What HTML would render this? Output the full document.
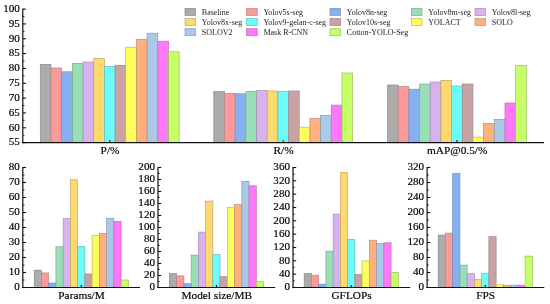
<!DOCTYPE html>
<html><head><meta charset="utf-8"><title>chart</title>
<style>html,body{margin:0;padding:0;background:#fff;}body{width:550px;height:304px;overflow:hidden;}svg{display:block}</style>
</head><body>
<svg width="550" height="304" viewBox="0 0 550 304" font-family="'Liberation Serif', serif" fill="#000" stroke="#000" stroke-width="0.18">
<line x1="22.80" y1="8.50" x2="22.80" y2="143.20" stroke="#111" stroke-width="1.2"/>
<line x1="22.80" y1="9.10" x2="26.00" y2="9.10" stroke="#111" stroke-width="1.1"/>
<line x1="22.80" y1="16.52" x2="24.50" y2="16.52" stroke="#111" stroke-width="0.9"/>
<text x="19.80" y="11.90" font-size="11.1" text-anchor="end">100</text>
<line x1="22.80" y1="23.93" x2="26.00" y2="23.93" stroke="#111" stroke-width="1.1"/>
<line x1="22.80" y1="31.35" x2="24.50" y2="31.35" stroke="#111" stroke-width="0.9"/>
<text x="19.80" y="26.73" font-size="11.1" text-anchor="end">95</text>
<line x1="22.80" y1="38.77" x2="26.00" y2="38.77" stroke="#111" stroke-width="1.1"/>
<line x1="22.80" y1="46.18" x2="24.50" y2="46.18" stroke="#111" stroke-width="0.9"/>
<text x="19.80" y="41.57" font-size="11.1" text-anchor="end">90</text>
<line x1="22.80" y1="53.60" x2="26.00" y2="53.60" stroke="#111" stroke-width="1.1"/>
<line x1="22.80" y1="61.02" x2="24.50" y2="61.02" stroke="#111" stroke-width="0.9"/>
<text x="19.80" y="56.40" font-size="11.1" text-anchor="end">85</text>
<line x1="22.80" y1="68.43" x2="26.00" y2="68.43" stroke="#111" stroke-width="1.1"/>
<line x1="22.80" y1="75.85" x2="24.50" y2="75.85" stroke="#111" stroke-width="0.9"/>
<text x="19.80" y="71.23" font-size="11.1" text-anchor="end">80</text>
<line x1="22.80" y1="83.27" x2="26.00" y2="83.27" stroke="#111" stroke-width="1.1"/>
<line x1="22.80" y1="90.68" x2="24.50" y2="90.68" stroke="#111" stroke-width="0.9"/>
<text x="19.80" y="86.07" font-size="11.1" text-anchor="end">75</text>
<line x1="22.80" y1="98.10" x2="26.00" y2="98.10" stroke="#111" stroke-width="1.1"/>
<line x1="22.80" y1="105.52" x2="24.50" y2="105.52" stroke="#111" stroke-width="0.9"/>
<text x="19.80" y="100.90" font-size="11.1" text-anchor="end">70</text>
<line x1="22.80" y1="112.93" x2="26.00" y2="112.93" stroke="#111" stroke-width="1.1"/>
<line x1="22.80" y1="120.35" x2="24.50" y2="120.35" stroke="#111" stroke-width="0.9"/>
<text x="19.80" y="115.73" font-size="11.1" text-anchor="end">65</text>
<line x1="22.80" y1="127.77" x2="26.00" y2="127.77" stroke="#111" stroke-width="1.1"/>
<line x1="22.80" y1="135.18" x2="24.50" y2="135.18" stroke="#111" stroke-width="0.9"/>
<text x="19.80" y="130.57" font-size="11.1" text-anchor="end">60</text>
<line x1="22.80" y1="142.60" x2="26.00" y2="142.60" stroke="#111" stroke-width="1.1"/>
<text x="19.80" y="145.40" font-size="11.1" text-anchor="end">55</text>
<rect x="40.30" y="64.40" width="10.68" height="78.20" fill="#ababab" stroke="#8d8d8d" stroke-width="0.7"/>
<rect x="50.98" y="68.00" width="10.68" height="74.60" fill="#fb9a99" stroke="#b98383" stroke-width="0.7"/>
<rect x="61.66" y="71.80" width="10.68" height="70.80" fill="#86b0f2" stroke="#7890b4" stroke-width="0.7"/>
<rect x="72.34" y="63.40" width="10.68" height="79.20" fill="#98dfb8" stroke="#82a994" stroke-width="0.7"/>
<rect x="83.02" y="62.00" width="10.68" height="80.60" fill="#d8b2ee" stroke="#a691b2" stroke-width="0.7"/>
<rect x="93.70" y="58.40" width="10.68" height="84.20" fill="#ffd86e" stroke="#bba66b" stroke-width="0.7"/>
<rect x="104.38" y="66.40" width="10.68" height="76.20" fill="#6cfcfc" stroke="#6ab9b9" stroke-width="0.7"/>
<rect x="115.06" y="65.30" width="10.68" height="77.30" fill="#c9a3a3" stroke="#9d8888" stroke-width="0.7"/>
<rect x="125.74" y="47.20" width="10.68" height="95.40" fill="#ffff5a" stroke="#bbbb60" stroke-width="0.7"/>
<rect x="136.42" y="39.40" width="10.68" height="103.20" fill="#ffb07c" stroke="#bb9073" stroke-width="0.7"/>
<rect x="147.10" y="33.20" width="10.68" height="109.40" fill="#abc8e6" stroke="#8d9dad" stroke-width="0.7"/>
<rect x="157.78" y="41.20" width="10.68" height="101.40" fill="#ff78fa" stroke="#bb71b8" stroke-width="0.7"/>
<rect x="168.46" y="51.80" width="10.68" height="90.80" fill="#c6ff66" stroke="#9cbb67" stroke-width="0.7"/>
<rect x="213.80" y="91.40" width="10.68" height="51.20" fill="#ababab" stroke="#8d8d8d" stroke-width="0.7"/>
<rect x="224.48" y="93.60" width="10.68" height="49.00" fill="#fb9a99" stroke="#b98383" stroke-width="0.7"/>
<rect x="235.16" y="93.80" width="10.68" height="48.80" fill="#86b0f2" stroke="#7890b4" stroke-width="0.7"/>
<rect x="245.84" y="91.40" width="10.68" height="51.20" fill="#98dfb8" stroke="#82a994" stroke-width="0.7"/>
<rect x="256.52" y="90.40" width="10.68" height="52.20" fill="#d8b2ee" stroke="#a691b2" stroke-width="0.7"/>
<rect x="267.20" y="91.00" width="10.68" height="51.60" fill="#ffd86e" stroke="#bba66b" stroke-width="0.7"/>
<rect x="277.88" y="91.60" width="10.68" height="51.00" fill="#6cfcfc" stroke="#6ab9b9" stroke-width="0.7"/>
<rect x="288.56" y="91.00" width="10.68" height="51.60" fill="#c9a3a3" stroke="#9d8888" stroke-width="0.7"/>
<rect x="299.24" y="127.20" width="10.68" height="15.40" fill="#ffff5a" stroke="#bbbb60" stroke-width="0.7"/>
<rect x="309.92" y="118.60" width="10.68" height="24.00" fill="#ffb07c" stroke="#bb9073" stroke-width="0.7"/>
<rect x="320.60" y="115.40" width="10.68" height="27.20" fill="#abc8e6" stroke="#8d9dad" stroke-width="0.7"/>
<rect x="331.28" y="105.10" width="10.68" height="37.50" fill="#ff78fa" stroke="#bb71b8" stroke-width="0.7"/>
<rect x="341.96" y="73.00" width="10.68" height="69.60" fill="#c6ff66" stroke="#9cbb67" stroke-width="0.7"/>
<rect x="387.50" y="85.00" width="10.68" height="57.60" fill="#ababab" stroke="#8d8d8d" stroke-width="0.7"/>
<rect x="398.18" y="86.60" width="10.68" height="56.00" fill="#fb9a99" stroke="#b98383" stroke-width="0.7"/>
<rect x="408.86" y="89.20" width="10.68" height="53.40" fill="#86b0f2" stroke="#7890b4" stroke-width="0.7"/>
<rect x="419.54" y="84.00" width="10.68" height="58.60" fill="#98dfb8" stroke="#82a994" stroke-width="0.7"/>
<rect x="430.22" y="82.00" width="10.68" height="60.60" fill="#d8b2ee" stroke="#a691b2" stroke-width="0.7"/>
<rect x="440.90" y="80.40" width="10.68" height="62.20" fill="#ffd86e" stroke="#bba66b" stroke-width="0.7"/>
<rect x="451.58" y="86.00" width="10.68" height="56.60" fill="#6cfcfc" stroke="#6ab9b9" stroke-width="0.7"/>
<rect x="462.26" y="84.00" width="10.68" height="58.60" fill="#c9a3a3" stroke="#9d8888" stroke-width="0.7"/>
<rect x="472.94" y="137.20" width="10.68" height="5.40" fill="#ffff5a" stroke="#bbbb60" stroke-width="0.7"/>
<rect x="483.62" y="123.40" width="10.68" height="19.20" fill="#ffb07c" stroke="#bb9073" stroke-width="0.7"/>
<rect x="494.30" y="119.40" width="10.68" height="23.20" fill="#abc8e6" stroke="#8d9dad" stroke-width="0.7"/>
<rect x="504.98" y="103.00" width="10.68" height="39.60" fill="#ff78fa" stroke="#bb71b8" stroke-width="0.7"/>
<rect x="515.66" y="65.60" width="10.68" height="77.00" fill="#c6ff66" stroke="#9cbb67" stroke-width="0.7"/>
<line x1="22.20" y1="142.60" x2="544.00" y2="142.60" stroke="#111" stroke-width="1.2"/>
<line x1="109.72" y1="142.60" x2="109.72" y2="140.20" stroke="#111" stroke-width="1.1"/>
<text x="110.02" y="154.40" font-size="11.3" text-anchor="middle">P/%</text>
<line x1="283.22" y1="142.60" x2="283.22" y2="140.20" stroke="#111" stroke-width="1.1"/>
<text x="283.52" y="154.40" font-size="11.3" text-anchor="middle">R/%</text>
<line x1="456.92" y1="142.60" x2="456.92" y2="140.20" stroke="#111" stroke-width="1.1"/>
<text x="457.22" y="154.40" font-size="11.3" text-anchor="middle">mAP@0.5/%</text>
<rect x="185.00" y="8.40" width="10.6" height="7" fill="#ababab" stroke="#8d8d8d" stroke-width="0.7"/>
<text x="201.80" y="14.70" font-size="8" text-anchor="start" stroke="none" fill="#222">Baseline</text>
<rect x="185.00" y="18.60" width="10.6" height="7" fill="#ffd86e" stroke="#bba66b" stroke-width="0.7"/>
<text x="201.80" y="24.90" font-size="8" text-anchor="start" stroke="none" fill="#222">Yolov8x-seg</text>
<rect x="185.00" y="28.70" width="10.6" height="7" fill="#abc8e6" stroke="#8d9dad" stroke-width="0.7"/>
<text x="201.80" y="35.00" font-size="8" text-anchor="start" stroke="none" fill="#222">SOLOV2</text>
<rect x="246.60" y="8.40" width="10.6" height="7" fill="#fb9a99" stroke="#b98383" stroke-width="0.7"/>
<text x="263.40" y="14.70" font-size="8" text-anchor="start" stroke="none" fill="#222">Yolov5s-seg</text>
<rect x="246.60" y="18.60" width="10.6" height="7" fill="#6cfcfc" stroke="#6ab9b9" stroke-width="0.7"/>
<text x="263.40" y="24.90" font-size="8" text-anchor="start" stroke="none" fill="#222">Yolov9-gelan-c-seg</text>
<rect x="246.60" y="28.70" width="10.6" height="7" fill="#ff78fa" stroke="#bb71b8" stroke-width="0.7"/>
<text x="263.40" y="35.00" font-size="8" text-anchor="start" stroke="none" fill="#222">Mask R-CNN</text>
<rect x="330.00" y="8.40" width="10.6" height="7" fill="#86b0f2" stroke="#7890b4" stroke-width="0.7"/>
<text x="346.80" y="14.70" font-size="8" text-anchor="start" stroke="none" fill="#222">Yolov8n-seg</text>
<rect x="330.00" y="18.60" width="10.6" height="7" fill="#c9a3a3" stroke="#9d8888" stroke-width="0.7"/>
<text x="346.80" y="24.90" font-size="8" text-anchor="start" stroke="none" fill="#222">Yolov10s-seg</text>
<rect x="330.00" y="28.70" width="10.6" height="7" fill="#c6ff66" stroke="#9cbb67" stroke-width="0.7"/>
<text x="346.80" y="35.00" font-size="8" text-anchor="start" stroke="none" fill="#222">Cotton-YOLO-Seg</text>
<rect x="411.40" y="8.40" width="10.6" height="7" fill="#98dfb8" stroke="#82a994" stroke-width="0.7"/>
<text x="428.20" y="14.70" font-size="8" text-anchor="start" stroke="none" fill="#222">Yolov8m-seg</text>
<rect x="411.40" y="18.60" width="10.6" height="7" fill="#ffff5a" stroke="#bbbb60" stroke-width="0.7"/>
<text x="428.20" y="24.90" font-size="8" text-anchor="start" stroke="none" fill="#222">YOLACT</text>
<rect x="475.00" y="8.40" width="10.6" height="7" fill="#d8b2ee" stroke="#a691b2" stroke-width="0.7"/>
<text x="491.80" y="14.70" font-size="8" text-anchor="start" stroke="none" fill="#222">Yolov8l-seg</text>
<rect x="475.00" y="18.60" width="10.6" height="7" fill="#ffb07c" stroke="#bb9073" stroke-width="0.7"/>
<text x="491.80" y="24.90" font-size="8" text-anchor="start" stroke="none" fill="#222">SOLO</text>
<line x1="22.80" y1="166.90" x2="22.80" y2="288.10" stroke="#111" stroke-width="1.2"/>
<line x1="22.80" y1="167.50" x2="26.00" y2="167.50" stroke="#111" stroke-width="1.1"/>
<line x1="22.80" y1="175.00" x2="24.50" y2="175.00" stroke="#111" stroke-width="0.9"/>
<text x="19.80" y="170.30" font-size="11.1" text-anchor="end">80</text>
<line x1="22.80" y1="182.50" x2="26.00" y2="182.50" stroke="#111" stroke-width="1.1"/>
<line x1="22.80" y1="190.00" x2="24.50" y2="190.00" stroke="#111" stroke-width="0.9"/>
<text x="19.80" y="185.30" font-size="11.1" text-anchor="end">70</text>
<line x1="22.80" y1="197.50" x2="26.00" y2="197.50" stroke="#111" stroke-width="1.1"/>
<line x1="22.80" y1="205.00" x2="24.50" y2="205.00" stroke="#111" stroke-width="0.9"/>
<text x="19.80" y="200.30" font-size="11.1" text-anchor="end">60</text>
<line x1="22.80" y1="212.50" x2="26.00" y2="212.50" stroke="#111" stroke-width="1.1"/>
<line x1="22.80" y1="220.00" x2="24.50" y2="220.00" stroke="#111" stroke-width="0.9"/>
<text x="19.80" y="215.30" font-size="11.1" text-anchor="end">50</text>
<line x1="22.80" y1="227.50" x2="26.00" y2="227.50" stroke="#111" stroke-width="1.1"/>
<line x1="22.80" y1="235.00" x2="24.50" y2="235.00" stroke="#111" stroke-width="0.9"/>
<text x="19.80" y="230.30" font-size="11.1" text-anchor="end">40</text>
<line x1="22.80" y1="242.50" x2="26.00" y2="242.50" stroke="#111" stroke-width="1.1"/>
<line x1="22.80" y1="250.00" x2="24.50" y2="250.00" stroke="#111" stroke-width="0.9"/>
<text x="19.80" y="245.30" font-size="11.1" text-anchor="end">30</text>
<line x1="22.80" y1="257.50" x2="26.00" y2="257.50" stroke="#111" stroke-width="1.1"/>
<line x1="22.80" y1="265.00" x2="24.50" y2="265.00" stroke="#111" stroke-width="0.9"/>
<text x="19.80" y="260.30" font-size="11.1" text-anchor="end">20</text>
<line x1="22.80" y1="272.50" x2="26.00" y2="272.50" stroke="#111" stroke-width="1.1"/>
<line x1="22.80" y1="280.00" x2="24.50" y2="280.00" stroke="#111" stroke-width="0.9"/>
<text x="19.80" y="275.30" font-size="11.1" text-anchor="end">10</text>
<line x1="22.80" y1="287.50" x2="26.00" y2="287.50" stroke="#111" stroke-width="1.1"/>
<text x="19.80" y="290.30" font-size="11.1" text-anchor="end">0</text>
<rect x="34.20" y="270.10" width="7.24" height="17.40" fill="#ababab" stroke="#8d8d8d" stroke-width="0.7"/>
<rect x="41.44" y="272.95" width="7.24" height="14.55" fill="#fb9a99" stroke="#b98383" stroke-width="0.7"/>
<rect x="48.68" y="283.00" width="7.24" height="4.50" fill="#86b0f2" stroke="#7890b4" stroke-width="0.7"/>
<rect x="55.92" y="246.70" width="7.24" height="40.80" fill="#98dfb8" stroke="#82a994" stroke-width="0.7"/>
<rect x="63.16" y="218.50" width="7.24" height="69.00" fill="#d8b2ee" stroke="#a691b2" stroke-width="0.7"/>
<rect x="70.40" y="179.80" width="7.24" height="107.70" fill="#ffd86e" stroke="#bba66b" stroke-width="0.7"/>
<rect x="77.64" y="246.40" width="7.24" height="41.10" fill="#6cfcfc" stroke="#6ab9b9" stroke-width="0.7"/>
<rect x="84.88" y="274.00" width="7.24" height="13.50" fill="#c9a3a3" stroke="#9d8888" stroke-width="0.7"/>
<rect x="92.12" y="235.60" width="7.24" height="51.90" fill="#ffff5a" stroke="#bbbb60" stroke-width="0.7"/>
<rect x="99.36" y="233.50" width="7.24" height="54.00" fill="#ffb07c" stroke="#bb9073" stroke-width="0.7"/>
<rect x="106.60" y="218.20" width="7.24" height="69.30" fill="#abc8e6" stroke="#8d9dad" stroke-width="0.7"/>
<rect x="113.84" y="221.35" width="7.24" height="66.15" fill="#ff78fa" stroke="#bb71b8" stroke-width="0.7"/>
<rect x="121.08" y="280.00" width="7.24" height="7.50" fill="#c6ff66" stroke="#9cbb67" stroke-width="0.7"/>
<line x1="22.20" y1="287.50" x2="140.00" y2="287.50" stroke="#111" stroke-width="1.2"/>
<line x1="81.26" y1="287.50" x2="81.26" y2="285.10" stroke="#111" stroke-width="1.1"/>
<text x="81.56" y="299.30" font-size="11.3" text-anchor="middle">Params/M</text>
<line x1="158.00" y1="166.90" x2="158.00" y2="288.10" stroke="#111" stroke-width="1.2"/>
<line x1="158.00" y1="167.50" x2="161.20" y2="167.50" stroke="#111" stroke-width="1.1"/>
<line x1="158.00" y1="173.50" x2="159.70" y2="173.50" stroke="#111" stroke-width="0.9"/>
<text x="155.00" y="170.30" font-size="11.1" text-anchor="end">200</text>
<line x1="158.00" y1="179.50" x2="161.20" y2="179.50" stroke="#111" stroke-width="1.1"/>
<line x1="158.00" y1="185.50" x2="159.70" y2="185.50" stroke="#111" stroke-width="0.9"/>
<text x="155.00" y="182.30" font-size="11.1" text-anchor="end">180</text>
<line x1="158.00" y1="191.50" x2="161.20" y2="191.50" stroke="#111" stroke-width="1.1"/>
<line x1="158.00" y1="197.50" x2="159.70" y2="197.50" stroke="#111" stroke-width="0.9"/>
<text x="155.00" y="194.30" font-size="11.1" text-anchor="end">160</text>
<line x1="158.00" y1="203.50" x2="161.20" y2="203.50" stroke="#111" stroke-width="1.1"/>
<line x1="158.00" y1="209.50" x2="159.70" y2="209.50" stroke="#111" stroke-width="0.9"/>
<text x="155.00" y="206.30" font-size="11.1" text-anchor="end">140</text>
<line x1="158.00" y1="215.50" x2="161.20" y2="215.50" stroke="#111" stroke-width="1.1"/>
<line x1="158.00" y1="221.50" x2="159.70" y2="221.50" stroke="#111" stroke-width="0.9"/>
<text x="155.00" y="218.30" font-size="11.1" text-anchor="end">120</text>
<line x1="158.00" y1="227.50" x2="161.20" y2="227.50" stroke="#111" stroke-width="1.1"/>
<line x1="158.00" y1="233.50" x2="159.70" y2="233.50" stroke="#111" stroke-width="0.9"/>
<text x="155.00" y="230.30" font-size="11.1" text-anchor="end">100</text>
<line x1="158.00" y1="239.50" x2="161.20" y2="239.50" stroke="#111" stroke-width="1.1"/>
<line x1="158.00" y1="245.50" x2="159.70" y2="245.50" stroke="#111" stroke-width="0.9"/>
<text x="155.00" y="242.30" font-size="11.1" text-anchor="end">80</text>
<line x1="158.00" y1="251.50" x2="161.20" y2="251.50" stroke="#111" stroke-width="1.1"/>
<line x1="158.00" y1="257.50" x2="159.70" y2="257.50" stroke="#111" stroke-width="0.9"/>
<text x="155.00" y="254.30" font-size="11.1" text-anchor="end">60</text>
<line x1="158.00" y1="263.50" x2="161.20" y2="263.50" stroke="#111" stroke-width="1.1"/>
<line x1="158.00" y1="269.50" x2="159.70" y2="269.50" stroke="#111" stroke-width="0.9"/>
<text x="155.00" y="266.30" font-size="11.1" text-anchor="end">40</text>
<line x1="158.00" y1="275.50" x2="161.20" y2="275.50" stroke="#111" stroke-width="1.1"/>
<line x1="158.00" y1="281.50" x2="159.70" y2="281.50" stroke="#111" stroke-width="0.9"/>
<text x="155.00" y="278.30" font-size="11.1" text-anchor="end">20</text>
<line x1="158.00" y1="287.50" x2="161.20" y2="287.50" stroke="#111" stroke-width="1.1"/>
<text x="155.00" y="290.30" font-size="11.1" text-anchor="end">0</text>
<rect x="169.40" y="273.52" width="7.24" height="13.98" fill="#ababab" stroke="#8d8d8d" stroke-width="0.7"/>
<rect x="176.64" y="275.92" width="7.24" height="11.58" fill="#fb9a99" stroke="#b98383" stroke-width="0.7"/>
<rect x="183.88" y="283.72" width="7.24" height="3.78" fill="#86b0f2" stroke="#7890b4" stroke-width="0.7"/>
<rect x="191.12" y="255.10" width="7.24" height="32.40" fill="#98dfb8" stroke="#82a994" stroke-width="0.7"/>
<rect x="198.36" y="232.12" width="7.24" height="55.38" fill="#d8b2ee" stroke="#a691b2" stroke-width="0.7"/>
<rect x="205.60" y="201.10" width="7.24" height="86.40" fill="#ffd86e" stroke="#bba66b" stroke-width="0.7"/>
<rect x="212.84" y="254.50" width="7.24" height="33.00" fill="#6cfcfc" stroke="#6ab9b9" stroke-width="0.7"/>
<rect x="220.08" y="276.52" width="7.24" height="10.98" fill="#c9a3a3" stroke="#9d8888" stroke-width="0.7"/>
<rect x="227.32" y="207.52" width="7.24" height="79.98" fill="#ffff5a" stroke="#bbbb60" stroke-width="0.7"/>
<rect x="234.56" y="204.52" width="7.24" height="82.98" fill="#ffb07c" stroke="#bb9073" stroke-width="0.7"/>
<rect x="241.80" y="181.30" width="7.24" height="106.20" fill="#abc8e6" stroke="#8d9dad" stroke-width="0.7"/>
<rect x="249.04" y="185.80" width="7.24" height="101.70" fill="#ff78fa" stroke="#bb71b8" stroke-width="0.7"/>
<rect x="256.28" y="281.68" width="7.24" height="5.82" fill="#c6ff66" stroke="#9cbb67" stroke-width="0.7"/>
<line x1="157.40" y1="287.50" x2="275.20" y2="287.50" stroke="#111" stroke-width="1.2"/>
<line x1="216.46" y1="287.50" x2="216.46" y2="285.10" stroke="#111" stroke-width="1.1"/>
<text x="216.76" y="299.30" font-size="11.3" text-anchor="middle">Model size/MB</text>
<line x1="293.00" y1="166.90" x2="293.00" y2="288.10" stroke="#111" stroke-width="1.2"/>
<line x1="293.00" y1="167.50" x2="296.20" y2="167.50" stroke="#111" stroke-width="1.1"/>
<line x1="293.00" y1="174.17" x2="294.70" y2="174.17" stroke="#111" stroke-width="0.9"/>
<text x="290.00" y="170.30" font-size="11.1" text-anchor="end">360</text>
<line x1="293.00" y1="180.83" x2="296.20" y2="180.83" stroke="#111" stroke-width="1.1"/>
<line x1="293.00" y1="187.50" x2="294.70" y2="187.50" stroke="#111" stroke-width="0.9"/>
<text x="290.00" y="183.63" font-size="11.1" text-anchor="end">320</text>
<line x1="293.00" y1="194.17" x2="296.20" y2="194.17" stroke="#111" stroke-width="1.1"/>
<line x1="293.00" y1="200.83" x2="294.70" y2="200.83" stroke="#111" stroke-width="0.9"/>
<text x="290.00" y="196.97" font-size="11.1" text-anchor="end">280</text>
<line x1="293.00" y1="207.50" x2="296.20" y2="207.50" stroke="#111" stroke-width="1.1"/>
<line x1="293.00" y1="214.17" x2="294.70" y2="214.17" stroke="#111" stroke-width="0.9"/>
<text x="290.00" y="210.30" font-size="11.1" text-anchor="end">240</text>
<line x1="293.00" y1="220.83" x2="296.20" y2="220.83" stroke="#111" stroke-width="1.1"/>
<line x1="293.00" y1="227.50" x2="294.70" y2="227.50" stroke="#111" stroke-width="0.9"/>
<text x="290.00" y="223.63" font-size="11.1" text-anchor="end">200</text>
<line x1="293.00" y1="234.17" x2="296.20" y2="234.17" stroke="#111" stroke-width="1.1"/>
<line x1="293.00" y1="240.83" x2="294.70" y2="240.83" stroke="#111" stroke-width="0.9"/>
<text x="290.00" y="236.97" font-size="11.1" text-anchor="end">160</text>
<line x1="293.00" y1="247.50" x2="296.20" y2="247.50" stroke="#111" stroke-width="1.1"/>
<line x1="293.00" y1="254.17" x2="294.70" y2="254.17" stroke="#111" stroke-width="0.9"/>
<text x="290.00" y="250.30" font-size="11.1" text-anchor="end">120</text>
<line x1="293.00" y1="260.83" x2="296.20" y2="260.83" stroke="#111" stroke-width="1.1"/>
<line x1="293.00" y1="267.50" x2="294.70" y2="267.50" stroke="#111" stroke-width="0.9"/>
<text x="290.00" y="263.63" font-size="11.1" text-anchor="end">80</text>
<line x1="293.00" y1="274.17" x2="296.20" y2="274.17" stroke="#111" stroke-width="1.1"/>
<line x1="293.00" y1="280.83" x2="294.70" y2="280.83" stroke="#111" stroke-width="0.9"/>
<text x="290.00" y="276.97" font-size="11.1" text-anchor="end">40</text>
<line x1="293.00" y1="287.50" x2="296.20" y2="287.50" stroke="#111" stroke-width="1.1"/>
<text x="290.00" y="290.30" font-size="11.1" text-anchor="end">0</text>
<rect x="304.20" y="273.50" width="7.24" height="14.00" fill="#ababab" stroke="#8d8d8d" stroke-width="0.7"/>
<rect x="311.44" y="275.17" width="7.24" height="12.33" fill="#fb9a99" stroke="#b98383" stroke-width="0.7"/>
<rect x="318.68" y="284.17" width="7.24" height="3.33" fill="#86b0f2" stroke="#7890b4" stroke-width="0.7"/>
<rect x="325.92" y="251.17" width="7.24" height="36.33" fill="#98dfb8" stroke="#82a994" stroke-width="0.7"/>
<rect x="333.16" y="214.17" width="7.24" height="73.33" fill="#d8b2ee" stroke="#a691b2" stroke-width="0.7"/>
<rect x="340.40" y="172.50" width="7.24" height="115.00" fill="#ffd86e" stroke="#bba66b" stroke-width="0.7"/>
<rect x="347.64" y="239.50" width="7.24" height="48.00" fill="#6cfcfc" stroke="#6ab9b9" stroke-width="0.7"/>
<rect x="354.88" y="274.50" width="7.24" height="13.00" fill="#c9a3a3" stroke="#9d8888" stroke-width="0.7"/>
<rect x="362.12" y="260.83" width="7.24" height="26.67" fill="#ffff5a" stroke="#bbbb60" stroke-width="0.7"/>
<rect x="369.36" y="240.17" width="7.24" height="47.33" fill="#ffb07c" stroke="#bb9073" stroke-width="0.7"/>
<rect x="376.60" y="243.50" width="7.24" height="44.00" fill="#abc8e6" stroke="#8d9dad" stroke-width="0.7"/>
<rect x="383.84" y="242.83" width="7.24" height="44.67" fill="#ff78fa" stroke="#bb71b8" stroke-width="0.7"/>
<rect x="391.08" y="272.50" width="7.24" height="15.00" fill="#c6ff66" stroke="#9cbb67" stroke-width="0.7"/>
<line x1="292.40" y1="287.50" x2="410.20" y2="287.50" stroke="#111" stroke-width="1.2"/>
<line x1="351.26" y1="287.50" x2="351.26" y2="285.10" stroke="#111" stroke-width="1.1"/>
<text x="351.56" y="299.30" font-size="11.3" text-anchor="middle">GFLOPs</text>
<line x1="427.10" y1="166.90" x2="427.10" y2="288.10" stroke="#111" stroke-width="1.2"/>
<line x1="427.10" y1="167.50" x2="430.30" y2="167.50" stroke="#111" stroke-width="1.1"/>
<line x1="427.10" y1="175.00" x2="428.80" y2="175.00" stroke="#111" stroke-width="0.9"/>
<text x="424.10" y="170.30" font-size="11.1" text-anchor="end">320</text>
<line x1="427.10" y1="182.50" x2="430.30" y2="182.50" stroke="#111" stroke-width="1.1"/>
<line x1="427.10" y1="190.00" x2="428.80" y2="190.00" stroke="#111" stroke-width="0.9"/>
<text x="424.10" y="185.30" font-size="11.1" text-anchor="end">280</text>
<line x1="427.10" y1="197.50" x2="430.30" y2="197.50" stroke="#111" stroke-width="1.1"/>
<line x1="427.10" y1="205.00" x2="428.80" y2="205.00" stroke="#111" stroke-width="0.9"/>
<text x="424.10" y="200.30" font-size="11.1" text-anchor="end">240</text>
<line x1="427.10" y1="212.50" x2="430.30" y2="212.50" stroke="#111" stroke-width="1.1"/>
<line x1="427.10" y1="220.00" x2="428.80" y2="220.00" stroke="#111" stroke-width="0.9"/>
<text x="424.10" y="215.30" font-size="11.1" text-anchor="end">200</text>
<line x1="427.10" y1="227.50" x2="430.30" y2="227.50" stroke="#111" stroke-width="1.1"/>
<line x1="427.10" y1="235.00" x2="428.80" y2="235.00" stroke="#111" stroke-width="0.9"/>
<text x="424.10" y="230.30" font-size="11.1" text-anchor="end">160</text>
<line x1="427.10" y1="242.50" x2="430.30" y2="242.50" stroke="#111" stroke-width="1.1"/>
<line x1="427.10" y1="250.00" x2="428.80" y2="250.00" stroke="#111" stroke-width="0.9"/>
<text x="424.10" y="245.30" font-size="11.1" text-anchor="end">120</text>
<line x1="427.10" y1="257.50" x2="430.30" y2="257.50" stroke="#111" stroke-width="1.1"/>
<line x1="427.10" y1="265.00" x2="428.80" y2="265.00" stroke="#111" stroke-width="0.9"/>
<text x="424.10" y="260.30" font-size="11.1" text-anchor="end">80</text>
<line x1="427.10" y1="272.50" x2="430.30" y2="272.50" stroke="#111" stroke-width="1.1"/>
<line x1="427.10" y1="280.00" x2="428.80" y2="280.00" stroke="#111" stroke-width="0.9"/>
<text x="424.10" y="275.30" font-size="11.1" text-anchor="end">40</text>
<line x1="427.10" y1="287.50" x2="430.30" y2="287.50" stroke="#111" stroke-width="1.1"/>
<text x="424.10" y="290.30" font-size="11.1" text-anchor="end">0</text>
<rect x="438.20" y="235.11" width="7.24" height="52.39" fill="#ababab" stroke="#8d8d8d" stroke-width="0.7"/>
<rect x="445.44" y="233.12" width="7.24" height="54.38" fill="#fb9a99" stroke="#b98383" stroke-width="0.7"/>
<rect x="452.68" y="173.50" width="7.24" height="114.00" fill="#86b0f2" stroke="#7890b4" stroke-width="0.7"/>
<rect x="459.92" y="265.11" width="7.24" height="22.39" fill="#98dfb8" stroke="#82a994" stroke-width="0.7"/>
<rect x="467.16" y="273.70" width="7.24" height="13.80" fill="#d8b2ee" stroke="#a691b2" stroke-width="0.7"/>
<rect x="474.40" y="279.51" width="7.24" height="7.99" fill="#ffd86e" stroke="#bba66b" stroke-width="0.7"/>
<rect x="481.64" y="273.70" width="7.24" height="13.80" fill="#6cfcfc" stroke="#6ab9b9" stroke-width="0.7"/>
<rect x="488.88" y="236.69" width="7.24" height="50.81" fill="#c9a3a3" stroke="#9d8888" stroke-width="0.7"/>
<rect x="496.12" y="284.88" width="7.24" height="2.62" fill="#ffff5a" stroke="#bbbb60" stroke-width="0.7"/>
<rect x="503.36" y="285.25" width="7.24" height="2.25" fill="#ffb07c" stroke="#bb9073" stroke-width="0.7"/>
<rect x="510.60" y="285.10" width="7.24" height="2.40" fill="#abc8e6" stroke="#8d9dad" stroke-width="0.7"/>
<rect x="517.84" y="285.29" width="7.24" height="2.21" fill="#ff78fa" stroke="#bb71b8" stroke-width="0.7"/>
<rect x="525.08" y="256.11" width="7.24" height="31.39" fill="#c6ff66" stroke="#9cbb67" stroke-width="0.7"/>
<line x1="426.50" y1="287.50" x2="544.30" y2="287.50" stroke="#111" stroke-width="1.2"/>
<line x1="485.26" y1="287.50" x2="485.26" y2="285.10" stroke="#111" stroke-width="1.1"/>
<text x="485.56" y="299.30" font-size="11.3" text-anchor="middle">FPS</text>
</svg>
</body></html>
